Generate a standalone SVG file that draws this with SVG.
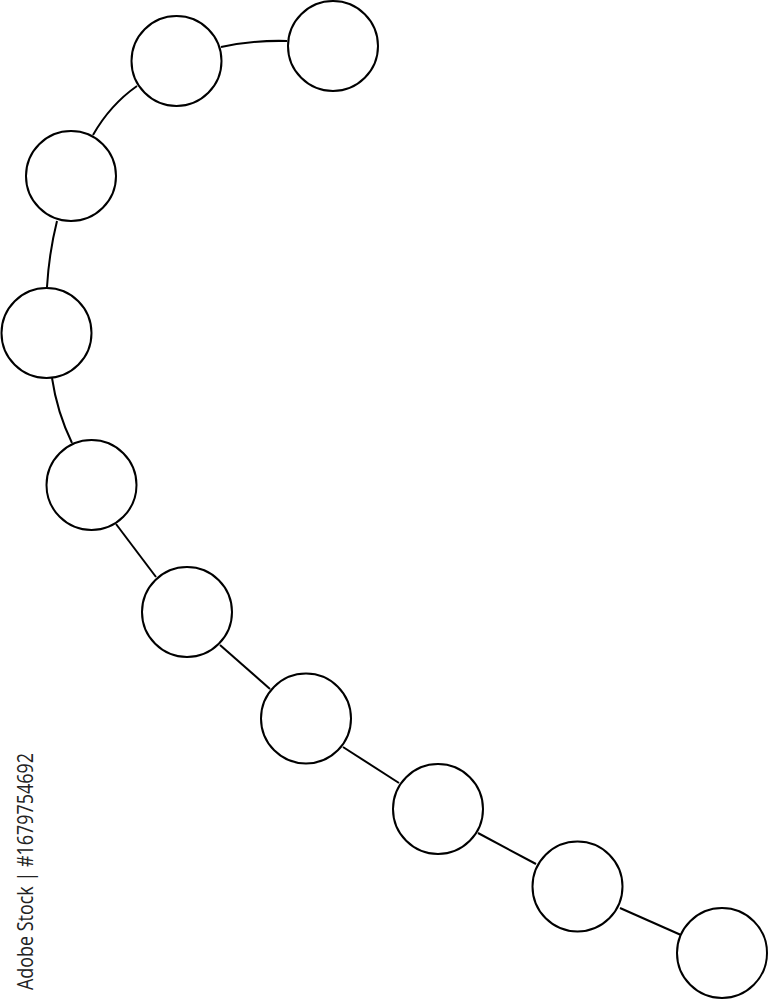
<svg xmlns="http://www.w3.org/2000/svg" width="769" height="1000" viewBox="0 0 769 1000">
<style>
.node circle{fill:#fff;stroke:#000;stroke-width:2}
.edge{fill:none;stroke:#000;stroke-width:2}
.credit{font-family:"Open Sans","Liberation Sans",sans-serif;font-size:22px;fill:#222}
</style>
<rect width="769" height="1000" fill="#fff"/>
<g id="connectors">
<path class="edge" d="M287,41 Q255,40 221,47"/>
<path class="edge" d="M137,86 Q110,105 93,135"/>
<path class="edge" d="M57,221 Q49,253 47,287"/>
<path class="edge" d="M52,378 Q57,412 72,443"/>
<path class="edge" d="M116,524 L156,577"/>
<path class="edge" d="M220,645 L270,689"/>
<path class="edge" d="M343,747 L399,783"/>
<path class="edge" d="M478,833 L536,864"/>
<path class="edge" d="M620,908 L681,935"/>
</g>
<g id="n1" class="node"><circle cx="333" cy="46" r="45"/></g>
<g id="n2" class="node"><circle cx="176.5" cy="61" r="45"/></g>
<g id="n3" class="node"><circle cx="71" cy="176" r="45"/></g>
<g id="n4" class="node"><circle cx="46.5" cy="333" r="45"/></g>
<g id="n5" class="node"><circle cx="91.5" cy="485" r="45"/></g>
<g id="n6" class="node"><circle cx="187" cy="612" r="45"/></g>
<g id="n7" class="node"><circle cx="306" cy="718.5" r="45"/></g>
<g id="n8" class="node"><circle cx="438" cy="809" r="45"/></g>
<g id="n9" class="node"><circle cx="577.5" cy="886.5" r="45"/></g>
<g id="n10" class="node"><circle cx="722" cy="953" r="45"/></g>
<text class="credit" transform="translate(33,990) rotate(-90)" textLength="237" lengthAdjust="spacingAndGlyphs">Adobe Stock | #1679754692</text>
</svg>
